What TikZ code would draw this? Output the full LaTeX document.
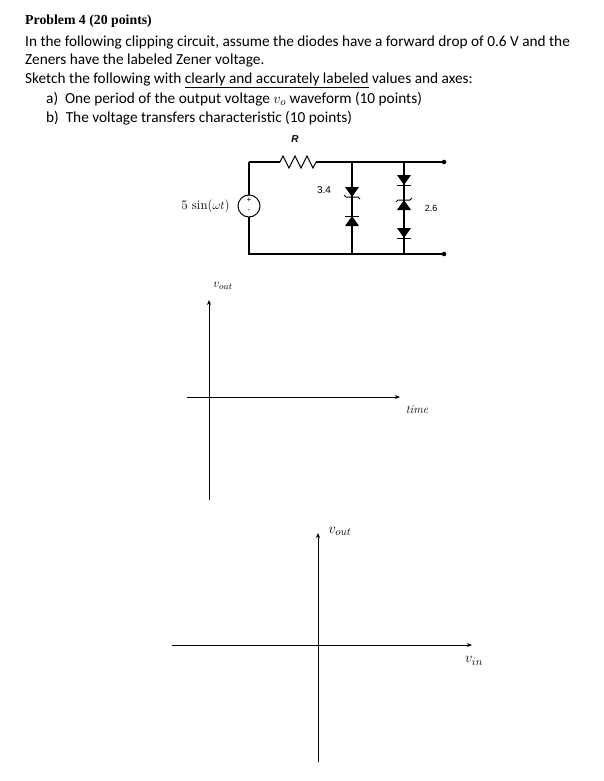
\documentclass[tikz,border=0pt]{standalone}
\usepackage{fontspec}
\setmainfont{Carlito}
\newfontfamily\serifb{Liberation Serif}
\newfontfamily\lmr{Latin Modern Roman}
\newfontfamily\lsans{Liberation Sans}
\usetikzlibrary{arrows.meta}
\begin{document}
\begin{tikzpicture}[x=1pt,y=-1pt,
  txt/.style={anchor=west,inner sep=0,font=\fontsize{15.3}{17}\selectfont},
  wire/.style={line width=1.3pt},
  ax/.style={line width=0.7pt,-{Stealth[length=5pt,width=4pt]}},
  dot/.style={circle,fill,inner sep=1.6pt}]
\useasboundingbox (0,0) rectangle (603,781);
\node[txt,font=\serifb\bfseries\fontsize{13.8}{16}\selectfont] (t0) at (25,21) {Problem 4 (20 points)};
\node[txt] (t1) at (25,43) {In the following clipping circuit, assume the diodes have a forward drop of 0.6 V and the};
\node[txt] (t2) at (25,61) {Zeners have the labeled Zener voltage.};
\node[txt] (t3) at (25,80) {Sketch the following with \underline{clearly and accurately labeled} values and axes:};
\node[txt] (t4) at (46,99) {a)\ \ One period of the output voltage $v_o$ waveform (10 points)};
\node[txt] (t5) at (46,118) {b)\ \ The voltage transfers characteristic (10 points)};
% circuit
\coordinate (tl) at (249,162); \coordinate (bl) at (249,254);
\coordinate (r1) at (280,162); \coordinate (r2) at (316,162);
\coordinate (tr) at (444,162); \coordinate (br) at (444,254);
\draw[wire] (tl) -- (r1);
\draw[line width=1pt] (r1) -- ++(3,-6) -- ++(6,12) -- ++(6,-12) -- ++(6,12) -- ++(6,-12) -- ++(6,12) -- (r2);
\draw[wire] (r2) -- (tr);
\draw[wire] (tl) -- (249,195); \draw[wire] (249,217) -- (bl) -- (br);
\node[draw,circle,line width=1pt,minimum size=22pt,inner sep=0] (src) at (249,206) {};
\node[font=\lsans\fontsize{8}{8}\selectfont,inner sep=0] at (249,200) {+};
\node[font=\lsans\fontsize{8}{8}\selectfont,inner sep=0] at (249,211) {-};
\node[dot] (o1) at (tr) {}; \node[dot] (o2) at (br) {};
\node[anchor=east,font=\lmr\fontsize{13}{14}\selectfont] (vs) at (233,206) {5 sin($\omega t$)};
\node[font=\lsans\bfseries\itshape\fontsize{10}{10}\selectfont] (rl) at (295,139) {R};
% branch 1
\draw[wire] (352,162) -- (352,254);
\fill (345,187) -- (359,187) -- (352,197) -- cycle;
\draw[line width=1pt] (346,197) -- (358,197) (346,197)--(344,195) (358,197)--(360,199);
\fill (345,226) -- (359,226) -- (352,216) -- cycle;
\draw[line width=1pt] (345,216)--(359,216);
\node[font=\lsans\fontsize{10}{10}\selectfont] (z1) at (324,190) {3.4};
% branch 2
\draw[wire] (404,162) -- (404,254);
\fill (397,175) -- (411,175) -- (404,185) -- cycle;
\draw[line width=1pt] (397,185)--(411,185);
\fill (397,210) -- (411,210) -- (404,200) -- cycle;
\draw[line width=1pt] (398,200) -- (410,200) (398,200)--(396,202) (410,200)--(412,198);
\fill (397,228) -- (411,228) -- (404,238) -- cycle;
\draw[line width=1pt] (397,238)--(411,238);
\node[font=\lsans\fontsize{9}{10}\selectfont] (z2) at (431,208) {2.6};
% graph 1
\coordinate (a1) at (209,500); \coordinate (a2) at (209,300);
\coordinate (a3) at (187,397); \coordinate (a4) at (400,397);
\draw[ax] (a1) -- (a2); \draw[ax] (a3) -- (a4);
\node[font=\lmr\fontsize{13}{14}\selectfont] (l1) at (223,286) {$v_{out}$};
\node[font=\lmr\itshape\fontsize{12}{13}\selectfont] (l2) at (417,410) {time};
% graph 2
\coordinate (b1) at (318,762); \coordinate (b2) at (318,533);
\coordinate (b3) at (172,645); \coordinate (b4) at (472,645);
\draw[ax] (b1) -- (b2); \draw[ax] (b3) -- (b4);
\node[font=\lmr\fontsize{15}{16}\selectfont] (l3) at (340,531) {$v_{out}$};
\node[font=\lmr\fontsize{15}{16}\selectfont] (l4) at (474,661) {$v_{in}$};
\end{tikzpicture}
\end{document}
